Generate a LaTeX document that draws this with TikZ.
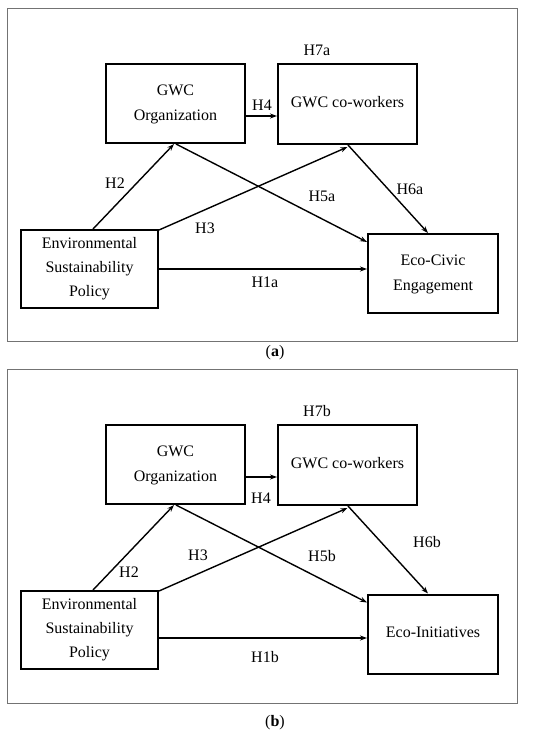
\documentclass[tikz,border=0pt]{standalone}
\usepackage{fontspec}
\setmainfont{Liberation Serif}
\usetikzlibrary{arrows.meta}
\begin{document}
\begin{tikzpicture}[x=1pt,y=-1pt,
  boxnode/.style={draw,line width=2pt,inner sep=0pt,align=center,font=\fontsize{16}{24}\selectfont},
  lab/.style={font=\fontsize{16}{18}\selectfont,inner sep=0pt},
  arr/.style={line width=1.4pt,-{Stealth[length=7pt,width=5pt]}},
  frame/.style={draw=black!55,line width=0.8pt}]
\useasboundingbox (0,0) rectangle (550,737);
% ---------- panel (a) ----------
\draw[frame] (7,8) rectangle (517,341);
\node[boxnode,minimum width=139pt,minimum height=79pt] (orgA) at (175.5,103.5) {\raisebox{3pt}{\begin{tabular}{@{}c@{}}GWC\\[1pt]Organization\end{tabular}}};
\node[boxnode,minimum width=139pt,minimum height=80pt] (cowA) at (347.5,104) {\raisebox{4pt}{GWC co-workers}};
\node[boxnode,minimum width=137pt,minimum height=78pt] (envA) at (89.5,269) {Environmental\\Sustainability\\Policy};
\node[boxnode,minimum width=130pt,minimum height=79pt] (ecoA) at (433,273.5) {\raisebox{3pt}{\begin{tabular}{@{}c@{}}Eco-Civic\\[1pt]Engagement\end{tabular}}};
\draw[arr] ([xshift=3.5pt]envA.north) -- ([xshift=-1.5pt]orgA.south);
\draw[arr] ([yshift=-12.5pt]orgA.east) -- ([yshift=-12.5pt]orgA.east -| cowA.west);
\draw[arr] ([xshift=0.5pt]orgA.south) -- ([yshift=-9pt]ecoA.north west);
\draw[arr] ([yshift=-1pt]envA.north east) -- ([yshift=-2pt]cowA.south);
\draw[arr] ([xshift=0.5pt]cowA.south) -- ([xshift=-5pt]ecoA.north);
\draw[arr] (envA.east) -- (envA.east -| ecoA.west);
\node[lab] (h7a) at (317,50) {H7a};
\node[lab] (h4a) at (262,105) {H4};
\node[lab] (h2a) at (115,183) {H2};
\node[lab] (h5a) at (322,196) {H5a};
\node[lab] (h3a) at (205,228) {H3};
\node[lab] (h6a) at (410,189) {H6a};
\node[lab] (h1a) at (265,282) {H1a};
\node[lab] (capa) at (275,353) {(\textbf{a})};
% ---------- panel (b) ----------
\draw[frame] (7,369) rectangle (517,703);
\node[boxnode,minimum width=139pt,minimum height=79pt] (orgB) at (175.5,464.5) {\raisebox{3pt}{\begin{tabular}{@{}c@{}}GWC\\[1pt]Organization\end{tabular}}};
\node[boxnode,minimum width=139pt,minimum height=80pt] (cowB) at (347.5,465) {\raisebox{4pt}{GWC co-workers}};
\node[boxnode,minimum width=137pt,minimum height=78pt] (envB) at (89.5,630) {Environmental\\Sustainability\\Policy};
\node[boxnode,minimum width=130pt,minimum height=79pt] (ecoB) at (433,634) {\raisebox{4pt}{Eco-Initiatives}};
\draw[arr] ([xshift=3.5pt]envB.north) -- ([xshift=-1.5pt]orgB.south);
\draw[arr] ([yshift=-12.5pt]orgB.east) -- ([yshift=-12.5pt]orgB.east -| cowB.west);
\draw[arr] ([xshift=0.5pt]orgB.south) -- ([yshift=-9pt]ecoB.north west);
\draw[arr] ([yshift=-1pt]envB.north east) -- ([yshift=-2pt]cowB.south);
\draw[arr] ([xshift=0.5pt]cowB.south) -- ([xshift=-5pt]ecoB.north);
\draw[arr] ([yshift=-8pt]envB.east) -- ([yshift=-8pt]envB.east -| ecoB.west);
\node[lab] (h7b) at (317,411) {H7b};
\node[lab] (h4b) at (261,498) {H4};
\node[lab] (h2b) at (129,572) {H2};
\node[lab] (h5b) at (322,556) {H5b};
\node[lab] (h3b) at (198,555) {H3};
\node[lab] (h6b) at (427,542) {H6b};
\node[lab] (h1b) at (265,657) {H1b};
\node[lab] (capb) at (275,723) {(\textbf{b})};
\end{tikzpicture}
\end{document}
